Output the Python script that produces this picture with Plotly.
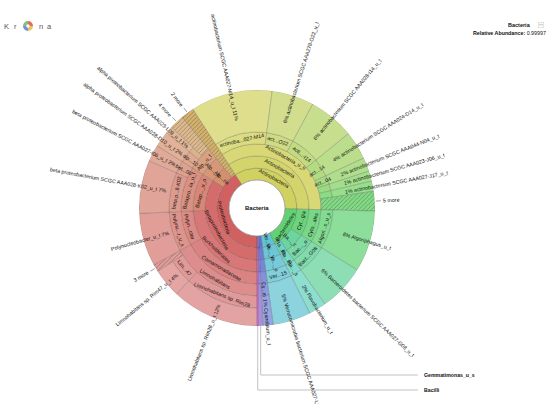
import math
import colorsys
import plotly.graph_objects as go

# ---------------- data: taxonomy tree (clockwise order), leaf values = % of reads ----------------
node_id = [
    "root",
    "P", "P.b", "P.b.bu", "P.b.bu.co", "P.b.bu.co.li",
    "P.b.bu.co.li.r28", "P.b.bu.co.li.r28.t",
    "P.b.bu.co.li.r47", "P.b.bu.co.li.r47.t",
    "P.b.bu.co.li.more",
    "P.b.bu.po", "P.b.bu.po.s", "P.b.bu.po.s.t",
    "P.b.uo", "P.b.uo.uf",
    "P.b.uo.uf.k02", "P.b.uo.uf.k02.t",
    "P.b.uo.uf.i06", "P.b.uo.uf.i06.t",
    "P.a", "P.a.uo", "P.a.uo.uf",
    "P.a.uo.uf.d10", "P.a.uo.uf.d10.t",
    "P.a.uo.uf.l09", "P.a.uo.uf.l09.t",
    "P.a.uo.uf.more",
    "P.more",
    "A", "A.c", "A.c.uo",
    "A.m14", "A.m14.t", "A.o22", "A.o22.t", "A.i14", "A.i14.t", "A.d14", "A.d14.t",
    "A.n04", "A.n04.t", "A.j06", "A.j06.t", "A.j17", "A.j17.t", "A.more",
    "B", "B.cy", "B.cy.o", "B.cy.o.al", "B.cy.o.al.t",
    "B.uc", "B.uc.uo", "B.uc.uo.g08", "B.uc.uo.g08.t",
    "B.fl", "B.fl.o", "B.fl.o.fb", "B.fl.o.fb.t",
    "V", "V.uc", "V.uc.uo", "V.uc.uo.sp", "V.uc.uo.sp.t",
    "C", "C.uc", "C.uc.sy", "C.uc.sy.f", "C.uc.sy.f.cb", "C.uc.sy.f.cb.t",
    "G", "G.c", "G.c.o", "G.c.o.f", "G.c.o.f.g",
    "F", "F.b",
]
node_name = [
    "Bacteria",
    "Proteobacteria", "Betaproteobacteria", "Burkholderiales", "Comamonadaceae", "Limnohabitans",
    "Limnohabitans sp. Rim28", "Limnohabitans sp. Rim28_u_t",
    "Limnohabitans sp. Rim47", "Limnohabitans sp. Rim47_u_t",
    "3 more",
    "Polynucleobacter", "Polynucleobacter_u_s", "Polynucleobacter_u_t",
    "Betaproteobacteria_u_o", "Betaproteobacteria_u_f",
    "beta proteobacterium SCGC AAA028-K02", "beta proteobacterium SCGC AAA028-K02_u_t",
    "beta proteobacterium SCGC AAA027-I06", "beta proteobacterium SCGC AAA027-I06_u_t",
    "Alphaproteobacteria", "Alphaproteobacteria_u_o", "Alphaproteobacteria_u_f",
    "alpha proteobacterium SCGC AAA028-D10", "alpha proteobacterium SCGC AAA028-D10_u_t",
    "alpha proteobacterium SCGC AAA023-L09", "alpha proteobacterium SCGC AAA023-L09_u_t",
    "4 more",
    "2 more",
    "Actinobacteria", "Actinobacteria", "Actinobacteria_u_o",
    "actinobacterium SCGC AAA027-M14", "actinobacterium SCGC AAA027-M14_u_t",
    "actinobacterium SCGC AAA278-O22", "actinobacterium SCGC AAA278-O22_u_t",
    "actinobacterium SCGC AAA028-I14", "actinobacterium SCGC AAA028-I14_u_t",
    "actinobacterium SCGC AAA024-D14", "actinobacterium SCGC AAA024-D14_u_t",
    "actinobacterium SCGC AAA044-N04", "actinobacterium SCGC AAA044-N04_u_t",
    "actinobacterium SCGC AAA023-J06", "actinobacterium SCGC AAA023-J06_u_t",
    "actinobacterium SCGC AAA027-J17", "actinobacterium SCGC AAA027-J17_u_t",
    "5 more",
    "Bacteroidetes", "Cytophagia", "Cytophagales", "Algoriphagus_u_s", "Algoriphagus_u_t",
    "Bacteroidetes_u_c", "Bacteroidetes_u_o",
    "Bacteroidetes bacterium SCGC AAA027-G08", "Bacteroidetes bacterium SCGC AAA027-G08_u_t",
    "Flavobacteriia", "Flavobacteriales", "Flavobacterium_u_s", "Flavobacterium_u_t",
    "Verrucomicrobia", "Verrucomicrobia_u_c", "Verrucomicrobia_u_o",
    "Verrucomicrobia bacterium SCGC AAA027-L15", "Verrucomicrobia bacterium SCGC AAA027-L15_u_t",
    "Cyanobacteria", "Cyanobacteria_u_c", "Synechococcales", "Synechococcaceae", "Cyanobium", "Cyanobium_u_t",
    "Gemmatimonadetes", "Gemmatimonadetes", "Gemmatimonadales", "Gemmatimonadaceae", "Gemmatimonas_u_s",
    "Firmicutes", "Bacilli",
]
node_parent = [
    "",
    "root", "P", "P.b", "P.b.bu", "P.b.bu.co",
    "P.b.bu.co.li", "P.b.bu.co.li.r28",
    "P.b.bu.co.li", "P.b.bu.co.li.r47",
    "P.b.bu.co.li",
    "P.b.bu", "P.b.bu.po", "P.b.bu.po.s",
    "P.b", "P.b.uo",
    "P.b.uo.uf", "P.b.uo.uf.k02",
    "P.b.uo.uf", "P.b.uo.uf.i06",
    "P", "P.a", "P.a.uo",
    "P.a.uo.uf", "P.a.uo.uf.d10",
    "P.a.uo.uf", "P.a.uo.uf.l09",
    "P.a.uo.uf",
    "P",
    "root", "A", "A.c",
    "A.c.uo", "A.m14", "A.c.uo", "A.o22", "A.c.uo", "A.i14", "A.c.uo", "A.d14",
    "A.c.uo", "A.n04", "A.c.uo", "A.j06", "A.c.uo", "A.j17", "A.c.uo",
    "root", "B", "B.cy", "B.cy.o", "B.cy.o.al",
    "B", "B.uc", "B.uc.uo", "B.uc.uo.g08",
    "B", "B.fl", "B.fl.o", "B.fl.o.fb",
    "root", "V", "V.uc", "V.uc.uo", "V.uc.uo.sp",
    "root", "C", "C.uc", "C.uc.sy", "C.uc.sy.f", "C.uc.sy.f.cb",
    "root", "G", "G.c", "G.c.o", "G.c.o.f",
    "root", "F",
]
node_value = [
    None,
    None, None, None, None, None,
    None, 12.0,
    None, 4.0,
    1.0,
    None, None, 7.3,
    None, None,
    None, 7.3,
    None, 2.3,
    None, None, None,
    None, 2.2,
    None, 1.0,
    2.0,
    1.8,
    None, None, None,
    None, 11.2, None, 5.8, None, 6.3, None, 3.9,
    None, 1.9, None, 1.4, None, 1.4, 2.7,
    None, None, None, None, 8.4,
    None, None, None, 6.4,
    None, None, None, 2.4,
    None, None, None, None, 5.2,
    None, None, None, None, None, 1.4,
    None, None, None, None, 0.6,
    None, 0.2,
]

# ---------------- geometry / style constants ----------------
W_, H_ = 550, 404
CX, CY = 257, 208            # centre of the chart in px
R0, RING, R = 28.0, 12.0, 118.0
FS = 5.3
FONT = "Liberation Sans, Arial, Helvetica, sans-serif"
HUE_T = [0, 1 / 7, 2 / 7, 3 / 7, 4 / 7, 5 / 7, 6 / 7, 1.0]
HUE_V = [0, 60, 130, 188, 230, 262, 300, 360]

name = dict(zip(node_id, node_name))
value_of = dict(zip(node_id, node_value))
children = {i: [] for i in node_id}
for i, p in zip(node_id, node_parent):
    if p:
        children[p].append(i)

val = {}


def total(n):
    if not children[n]:
        val[n] = value_of[n]
    else:
        val[n] = sum(total(c) for c in children[n])
    return val[n]


total("root")
TOT = val["root"]

geo = {}
order = []


def place(n, a0, depth, h0, hspan):
    a1 = a0 + 360.0 * val[n] / TOT
    geo[n] = (a0, a1, depth, h0)
    order.append(n)
    a = a0
    kids = children[n]
    for k, c in enumerate(kids):
        place(c, a, depth + 1, h0 + hspan * k / len(kids), hspan / len(kids))
        a += 360.0 * val[c] / TOT


place("root", 0.0, 0, 0.0, 1.0)


def hue_of(t):
    for i in range(len(HUE_T) - 1):
        if HUE_T[i] <= t <= HUE_T[i + 1]:
            f = (t - HUE_T[i]) / (HUE_T[i + 1] - HUE_T[i])
            return HUE_V[i] + f * (HUE_V[i + 1] - HUE_V[i])
    return 0


def color_of(t, depth):
    h = (hue_of(t) % 360) / 360.0
    l = 0.60 + 0.028 * (depth - 1)
    r, g, b = colorsys.hls_to_rgb(h, l, 0.55)
    return "rgb(%d,%d,%d)" % (round(r * 255), round(g * 255), round(b * 255))


# text width (Arial metrics)
CW = {}
for ch, w in zip("ABCDEFGHIJKLMNOPQRSTUVWXYZ",
                 [667, 667, 722, 722, 667, 611, 778, 722, 278, 500, 667, 556, 833, 722, 778, 667, 778, 722,
                  667, 611, 722, 667, 944, 667, 667, 611]):
    CW[ch] = w
for ch, w in zip("abcdefghijklmnopqrstuvwxyz",
                 [556, 556, 500, 556, 556, 278, 556, 556, 222, 222, 500, 222, 833, 556, 556, 556, 556, 333,
                  500, 278, 556, 500, 722, 500, 500, 500]):
    CW[ch] = w
for ch in "0123456789":
    CW[ch] = 556
CW.update({" ": 278, "%": 889, "-": 333, ".": 278, "_": 556, ":": 278})


def tw(s, size=FS):
    return sum(CW.get(c, 556) for c in s) * size / 1000.0


def shorten(s, space):
    if tw(s) <= space:
        return s
    n = len(s)
    for k in range(n - 1, 2, -1):
        a, b = (k + 1) // 2, k // 2
        t = s[:a] + "..." + s[n - b:]
        if tw(t) <= space:
            return t
    return None


def pos(r, theta):
    s = math.radians(theta + 90)
    return r * math.cos(s), -r * math.sin(s)


def norm(a):
    return (a + 90) % 180 - 90


# ---------------- wedges ----------------
b_r, b_th, b_w, b_base, b_col, b_shape = [], [], [], [], [], []
for n in order:
    if n == "root":
        continue
    a0, a1, d, ht = geo[n]
    rin = R0 + RING * (d - 1)
    rout = R if not children[n] else rin + RING
    b_th.append((a0 + a1) / 2)
    b_w.append(a1 - a0)
    b_base.append(rin)
    b_r.append(rout - rin)
    b_col.append(color_of(ht, d))
    b_shape.append("/" if name[n].endswith(" more") else "")

fig = go.Figure()
fig.add_trace(go.Barpolar(
    r=b_r, theta=b_th, width=b_w, base=b_base,
    marker=dict(color=b_col, line=dict(color="rgba(70,70,70,0.45)", width=0.5),
                pattern=dict(shape=b_shape, fgcolor="rgba(60,60,60,0.45)", size=3, solidity=0.25)),
    hoverinfo="skip", showlegend=False))
fig.add_trace(go.Barpolar(
    r=[R0], theta=[0], width=[360], base=[0],
    marker=dict(color="white", line=dict(color="#999999", width=0.8)),
    hoverinfo="skip", showlegend=False))

# ---------------- labels ----------------
ann = []
lx, ly = [], []       # leader lines
kx, ky = [], []       # key lines
KEY_X, KEY_Y0, KEY_DY = 161, -167, -15
nkey = 0


def add_text(x, y, text, angle, size=FS, bold=False, xanchor="center"):
    ann.append(dict(x=x, y=y, xref="x", yref="y", text=("<b>%s</b>" % text) if bold else text,
                    textangle=angle, showarrow=False, xanchor=xanchor, yanchor="middle",
                    font=dict(size=size, color="#111111", family=FONT)))


for n in order:
    if n == "root":
        continue
    a0, a1, d, ht = geo[n]
    mid = (a0 + a1) / 2
    span = math.radians(a1 - a0)
    s = mid + 90
    right = math.cos(math.radians(s)) > 0
    rin = R0 + RING * (d - 1)
    nm = name[n]
    if not children[n]:
        if nm.endswith(" more"):
            x0, y0 = pos(R + 1, mid)
            x1, y1 = pos(R + 6, mid)
            lx += [x0, x1, None]
            ly += [y0, y1, None]
            L = tw(nm)
            cx, cy = pos(R + 8 + L / 2, mid)
            add_text(cx, cy, nm, norm(s))
        elif R * span < 6:
            x0, y0 = pos(R, mid)
            yk = KEY_Y0 + KEY_DY * nkey
            kx += [x0, x0, KEY_X, None]
            ky += [y0, yk, yk, None]
            add_text(KEY_X + 4, yk, nm, 0, size=5.2, bold=True, xanchor="left")
            nkey += 1
        else:
            pct = "%d%%" % round(val[n])
            text = (pct + " " + nm) if right else (nm + " " + pct)
            L = tw(text)
            rs = max(rin + 4, 90)
            cx, cy = pos(rs + L / 2, mid)
            add_text(cx, cy, text, norm(s))
    else:
        rmid = rin + RING / 2
        arc = rmid * span
        chord = 2 * math.sqrt((rin + RING + 1) ** 2 - rmid ** 2)
        tan_space = min(arc - 3, chord)
        rad_space = RING + 6 if arc >= 6.5 else 0
        if tan_space >= rad_space:
            txt = shorten(nm, tan_space)
            ang = norm(s + 90)
        else:
            txt = shorten(nm, rad_space)
            ang = norm(s)
        if txt:
            cx, cy = pos(rmid, mid)
            add_text(cx, cy, txt, ang)

add_text(0, 0, "Bacteria", 0, size=6, bold=True)

fig.add_trace(go.Scatter(x=lx, y=ly, mode="lines", line=dict(color="#777777", width=0.7),
                         hoverinfo="skip", showlegend=False))
fig.add_trace(go.Scatter(x=kx, y=ky, mode="lines", line=dict(color="#bbbbbb", width=0.9),
                         hoverinfo="skip", showlegend=False))


def px_x(p):
    return p / W_


def px_y(p):
    return 1 - p / H_


# ---------------- Krona logo & info box ----------------
fig.add_trace(go.Pie(values=[1, 1, 1, 1], marker=dict(colors=["#e36a5c", "#7cc576", "#7b8be0", "#e9c25a"],
                                                       line=dict(width=0)),
                     hole=0.35, sort=False, textinfo="none", hoverinfo="skip", showlegend=False,
                     domain=dict(x=[px_x(23), px_x(33)], y=[px_y(31), px_y(21)])))
for ch, p in zip(["K", "r", "n", "a"], [6.0, 15.0, 40.5, 49.0]):
    ann.append(dict(x=px_x(p), y=px_y(26), xref="paper", yref="paper", text=ch, showarrow=False,
                    xanchor="center", yanchor="middle", font=dict(size=7.5, color="#555555", family=FONT)))
ann.append(dict(x=px_x(533), y=px_y(25), xref="paper", yref="paper", text="<b>Bacteria</b>",
                showarrow=False, xanchor="right", yanchor="middle",
                font=dict(size=5.5, color="#111111", family=FONT)))
ann.append(dict(x=px_x(541), y=px_y(25), xref="paper", yref="paper", text="&lt;&gt;",
                showarrow=False, xanchor="center", yanchor="middle", bordercolor="#cccccc", borderwidth=0.5,
                borderpad=0.5, font=dict(size=3.5, color="#999999", family=FONT)))
ann.append(dict(x=px_x(471), y=px_y(33.5), xref="paper", yref="paper",
                text="<b>Relative Abundance:</b> 0.99997", showarrow=False, xanchor="left", yanchor="middle",
                font=dict(size=5.3, color="#111111", family=FONT)))

fig.update_layout(
    width=W_, height=H_, margin=dict(l=0, r=0, t=0, b=0),
    paper_bgcolor="white", plot_bgcolor="rgba(0,0,0,0)", showlegend=False,
    polar=dict(domain=dict(x=[(CX - R) / W_, (CX + R) / W_], y=[(H_ - CY - R) / H_, (H_ - CY + R) / H_]),
               bgcolor="rgba(0,0,0,0)",
               radialaxis=dict(range=[0, R], visible=False, showgrid=False),
               angularaxis=dict(visible=False, direction="clockwise", rotation=-90, showgrid=False,
                                thetaunit="degrees")),
    xaxis=dict(range=[-CX, W_ - CX], visible=False, fixedrange=True, domain=[0, 1]),
    yaxis=dict(range=[CY - H_, CY], visible=False, fixedrange=True, domain=[0, 1]),
    annotations=ann,
)

fig.write_html("out.html", config={"displayModeBar": False},
               post_script="document.body.style.margin='0px';")
